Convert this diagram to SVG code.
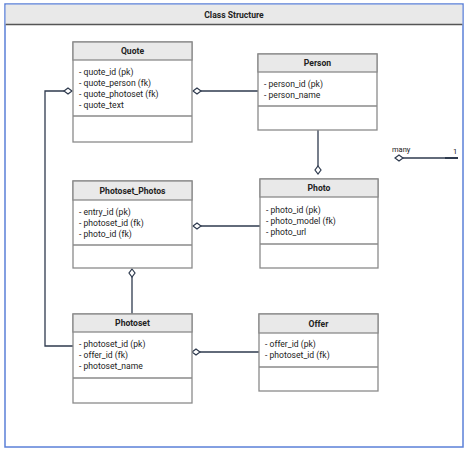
<svg xmlns="http://www.w3.org/2000/svg" width="474" height="453" viewBox="0 0 474 453">
<style>
.box{fill:#ffffff;stroke:#8a8a8a;stroke-width:1.3}
.hdr{fill:#e9e9e9;stroke:#8a8a8a;stroke-width:1.3}
.sep{stroke:#8a8a8a;stroke-width:1.3}
.t{font-family:Roboto,"Liberation Sans",sans-serif;font-size:8.6px;fill:#222}
.h{font-family:Roboto,"Liberation Sans",sans-serif;font-size:8.6px;font-weight:bold;fill:#222;text-anchor:middle}
.c{fill:none;stroke:#2e3a4e;stroke-width:1.3}
.d{fill:#ffffff;stroke:#2e3a4e;stroke-width:1.2}
</style>
<rect x="0" y="0" width="474" height="453" fill="#ffffff"/>
<g id="frame">
<rect x="5" y="4" width="458" height="443" fill="#ffffff" stroke="#5b80d8" stroke-width="1.5"/>
<rect x="5.7" y="4.7" width="456.6" height="19.8" fill="#e9e9e9"/>
<line x1="5.7" y1="24.5" x2="462.3" y2="24.5" stroke="#555" stroke-width="1.3"/>
<text x="234" y="18" class="h">Class Structure</text>
</g>
<g id="connectors">
<polyline class="c" points="64,91 45,91 45,346 73,346"/>
<line class="c" x1="201" y1="91" x2="258" y2="91"/>
<line class="c" x1="318" y1="130" x2="318" y2="166"/>
<line class="c" x1="201" y1="226" x2="260" y2="226"/>
<line class="c" x1="132" y1="277" x2="132" y2="314"/>
<line class="c" x1="200" y1="352" x2="259" y2="352"/>
<polygon class="d" points="64,91 68,88 72,91 68,94"/>
<polygon class="d" points="193,91 197,88 201,91 197,94"/>
<polygon class="d" points="318,166 321,170 318,174 315,170"/>
<polygon class="d" points="193,226 197,223 201,226 197,229" stroke-width="1.8"/>
<polygon class="d" points="132,269 135,273 132,277 129,273"/>
<polygon class="d" points="192,352 196,349 200,352 196,355"/>
</g>
<g id="legend">
<line class="c" x1="403" y1="158" x2="458" y2="158"/>
<line x1="445" y1="158" x2="458" y2="158" stroke="#2e3a4e" stroke-width="2"/>
<polygon class="d" points="395,158 399,155 403,158 399,161"/>
<text x="392" y="152" class="t" font-size="7.5px" style="font-size:7.5px">many</text>
<text x="453" y="154" class="t" style="font-size:7.5px">1</text>
</g>
<g id="quote">
<rect class="box" x="73" y="42" width="119" height="100"/>
<rect class="hdr" x="73" y="42" width="119" height="18"/>
<text x="132.5" y="54" class="h">Quote</text>
<text x="79" y="75" class="t">- quote_id (pk)</text>
<text x="79" y="86" class="t">- quote_person (fk)</text>
<text x="79" y="97" class="t">- quote_photoset (fk)</text>
<text x="79" y="108" class="t">- quote_text</text>
<line class="sep" x1="73" y1="116" x2="192" y2="116"/>
</g>
<g id="person">
<rect class="box" x="258" y="54" width="119" height="76"/>
<rect class="hdr" x="258" y="54" width="119" height="18"/>
<text x="317.5" y="66" class="h">Person</text>
<text x="264" y="87" class="t">- person_id (pk)</text>
<text x="264" y="98" class="t">- person_name</text>
<line class="sep" x1="258" y1="106" x2="377" y2="106"/>
</g>
<g id="photoset_photos">
<rect class="box" x="73" y="181" width="119" height="87"/>
<rect class="hdr" x="73" y="181" width="119" height="19"/>
<text x="132.5" y="194" class="h">Photoset_Photos</text>
<text x="79" y="215" class="t">- entry_id (pk)</text>
<text x="79" y="226" class="t">- photoset_id (fk)</text>
<text x="79" y="237" class="t">- photo_id (fk)</text>
<line class="sep" x1="73" y1="245" x2="192" y2="245"/>
</g>
<g id="photo">
<rect class="box" x="260" y="179" width="118" height="89"/>
<rect class="hdr" x="260" y="179" width="118" height="18"/>
<text x="319" y="191" class="h">Photo</text>
<text x="266" y="213" class="t">- photo_id (pk)</text>
<text x="266" y="224" class="t">- photo_model (fk)</text>
<text x="266" y="235" class="t">- photo_url</text>
<line class="sep" x1="260" y1="244" x2="378" y2="244"/>
</g>
<g id="photoset">
<rect class="box" x="73" y="314" width="119" height="89"/>
<rect class="hdr" x="73" y="314" width="119" height="18"/>
<text x="132.5" y="326" class="h">Photoset</text>
<text x="79" y="347" class="t">- photoset_id (pk)</text>
<text x="79" y="358" class="t">- offer_id (fk)</text>
<text x="79" y="369" class="t">- photoset_name</text>
<line class="sep" x1="73" y1="378" x2="192" y2="378"/>
</g>
<g id="offer">
<rect class="box" x="259" y="314" width="119" height="77"/>
<rect class="hdr" x="259" y="314" width="119" height="19"/>
<text x="318.5" y="327" class="h">Offer</text>
<text x="265" y="347" class="t">- offer_id (pk)</text>
<text x="265" y="358" class="t">- photoset_id (fk)</text>
<line class="sep" x1="259" y1="367" x2="378" y2="367"/>
</g>
</svg>
